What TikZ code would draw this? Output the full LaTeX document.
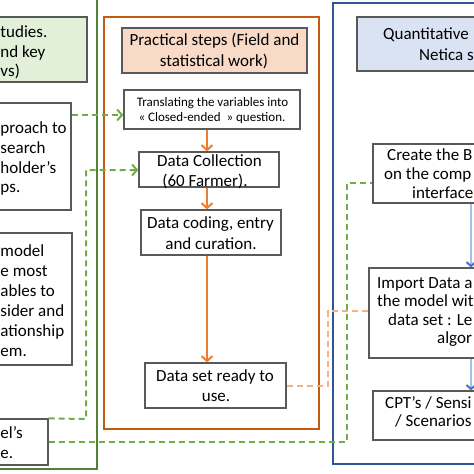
\documentclass[tikz,border=0pt]{standalone}
\usepackage{fontspec}
\setmainfont{Carlito}
\usetikzlibrary{arrows.meta}
\definecolor{gframe}{HTML}{548235}
\definecolor{gdashc}{HTML}{70AD47}
\definecolor{gfill}{HTML}{E2F0D9}
\definecolor{oframe}{HTML}{C55A11}
\definecolor{oarrowc}{HTML}{ED7D31}
\definecolor{odashc}{HTML}{F4B183}
\definecolor{ofill}{HTML}{F9DAC7}
\definecolor{bframe}{HTML}{2F5597}
\definecolor{bfill}{HTML}{DAE3F3}
\definecolor{blinec}{HTML}{9DC3E6}
\definecolor{btipc}{HTML}{4472C4}
\definecolor{boxgray}{HTML}{595959}
\tikzset{
  frame/.style={line width=2pt},
  box/.style={draw=boxgray, line width=1.2pt, fill=white, inner sep=0pt, rectangle},
  tx/.style={font=\fontsize{17}{20}\selectfont, inner sep=0pt, anchor=base},
  txe/.style={tx, anchor=base east},
  txw/.style={tx, anchor=base west},
  txs/.style={font=\fontsize{13}{15}\selectfont, inner sep=0pt, anchor=base},
  gdash/.style={draw=gdashc, line width=2pt, dash pattern=on 6pt off 4pt},
  odash/.style={draw=odashc, line width=2pt, dash pattern=on 6pt off 4pt},
  gtip/.style={-{Straight Barb[length=5pt,width=11pt,line width=2pt]}},
  oarr/.style={draw=oarrowc, line width=2pt, -{Straight Barb[length=5pt,width=11pt,line width=2pt]}},
  barr/.style={draw=blinec, line width=2pt, -{Straight Barb[length=4pt,width=9pt,line width=2pt,color=btipc]}},
}
\begin{document}
\begin{tikzpicture}[x=1pt,y=-1pt]
\useasboundingbox (0,0) rectangle (474,474);
% frames
\draw[frame, draw=gframe] (-10,-3) rectangle (97,469);
\draw[frame, draw=oframe] (104,17) rectangle (319,429);
\draw[frame, draw=bframe] (333,3) rectangle (490,464);

% left column
\node[box, fill=gfill, minimum width=107pt, minimum height=65pt] (ghead) at (33.5,49.5) {};
\node[txw] (gh1) at (0.3,37) {tudies.};
\node[txw] (gh2) at (0.3,57) {nd key};
\node[txw] (gh3) at (0.3,76) {vs)};

\node[box, minimum width=91pt, minimum height=107pt] (lb2) at (25.5,156.5) {};
\node[txw] (l21) at (0.3,133) {proach to};
\node[txw] (l22) at (0.3,153) {search};
\node[txw] (l23) at (0.3,173) {holder’s};
\node[txw] (l24) at (0.3,192) {ps.};

\node[box, minimum width=92pt, minimum height=132pt] (lb3) at (26,299) {};
\node[txw] (l31) at (0.3,256) {model};
\node[txw] (l32) at (0.3,276) {e most};
\node[txw] (l33) at (0.3,296) {ables to};
\node[txw] (l34) at (0.3,316) {sider and};
\node[txw] (l35) at (0.3,336) {ationship};
\node[txw] (l36) at (0.3,356) {em.};

\node[box, minimum width=68pt, minimum height=46pt] (lb4) at (14,442) {};
\node[txw] (l41) at (0.3,438) {el’s};
\node[txw] (l42) at (0.3,458) {e.};

% middle column
\node[box, fill=ofill, minimum width=185pt, minimum height=45pt] (phead) at (214.5,50.5) {};
\node[tx] (ph1) at (214.5,45) {Practical steps (Field and};
\node[tx] (ph2) at (214,66) {statistical work)};

\node[box, minimum width=176pt, minimum height=39pt] (tr) at (212,109.5) {};
\node[txs] (tr1) at (212.5,106) {Translating the variables into};
\node[txs] (tr2) at (212,121) {«~Closed-ended\ \ »~question.};

\node[box, minimum width=140pt, minimum height=35pt] (dc) at (209,169.5) {};
\node[tx] (dc1) at (209.5,166) {Data Collection};
\node[tx] (dc2) at (205,186) {(60 Farmer).};

\node[box, minimum width=140pt, minimum height=45pt] (dcod) at (211,232.5) {};
\node[tx] (co1) at (210.5,228) {Data coding, entry};
\node[tx] (co2) at (211,249) {and curation.};

\node[box, minimum width=141pt, minimum height=45pt] (ds) at (215.5,385.5) {};
\node[tx] (ds1) at (215,381) {Data set ready to};
\node[tx] (ds2) at (216,401) {use.};

% right column
\node[box, fill=bfill, minimum width=203pt, minimum height=54pt] (qhead) at (458.5,44) {};
\node[txw] (q1) at (383,39) {Quantitative};
\node[txw] (q2) at (419,60) {Netica s};

\node[box, minimum width=202pt, minimum height=59pt] (cr) at (474,173.5) {};
\node[txw] (cr1) at (387,160) {Create the B};
\node[txw] (cr2) at (384,179) {on the comp};
\node[txw] (cr3) at (412,198) {interface};

\node[box, minimum width=211pt, minimum height=90pt] (im) at (474.5,313) {};
\node[txw] (im1) at (377,288) {Import Data a};
\node[txw] (im2) at (377,306) {the model wit};
\node[txw] (im3) at (388,325) {data set : Le};
\node[txw] (im4) at (437,343) {algor};

\node[box, minimum width=202pt, minimum height=49pt] (cpt) at (474,415.5) {};
\node[txw] (cp1) at (385,408) {CPT’s / Sensi};
\node[txw] (cp2) at (395,426) {/ Scenarios};

% helper coordinates
\coordinate (g1) at (0,115);
\coordinate (g2) at (0,170);
\coordinate (g4) at (0,183);
\coordinate (g5) at (0,311);
\coordinate (ax) at (207,0);
\coordinate (bx) at (471,0);

% orange arrows
\draw[oarr] (tr.south -| ax) -- (dc.north -| ax);
\draw[oarr] (dc.south -| ax) -- (dcod.north -| ax);
\draw[oarr] (dcod.south -| ax) -- (ds.north -| ax);

% blue arrows
\draw[barr] (cr.south -| bx) -- (im.north -| bx);
\draw[barr] (im.south -| bx) -- (cpt.north -| bx);

% dashed connectors
\draw[gdash, gtip] (lb2.east |- g1) -- (tr.west |- g1);
\draw[gdash, gtip] (lb4.north east) -- (86,419) -- (86,170) -- (dc.west |- g2);
\draw[gdash] (lb4.east) -- (347,442) -- (347,183) -- (cr.west |- g4);
\draw[odash] (ds.east) -- (328,385.5) -- (328,311) -- (im.west |- g5);
\end{tikzpicture}
\end{document}
